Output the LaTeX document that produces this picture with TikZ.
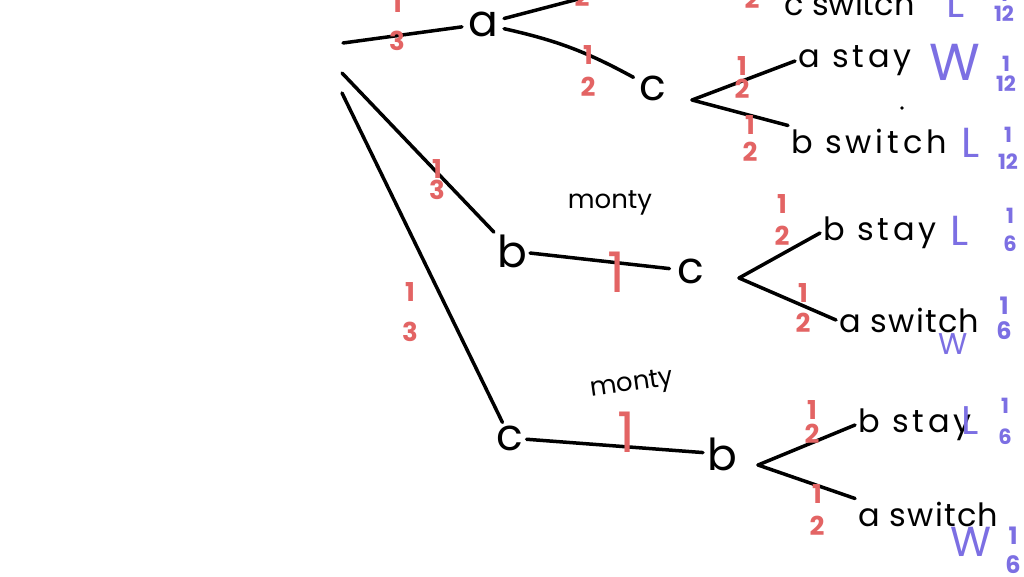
\documentclass[tikz,border=0pt]{standalone}
\usepackage{fontspec}
\setmainfont{Poppins}
\newfontfamily\handw{Poppins}[LetterSpace=12]
\newfontfamily\handn{Poppins}[LetterSpace=4]
\newfontfamily\handp{Poppins}
\newfontfamily\handb{Poppins}
\definecolor{hred}{HTML}{E36464}
\definecolor{hblue}{HTML}{7C6FE3}
\begin{document}
\begin{tikzpicture}[x=1pt,y=-1pt,
  ink/.style={line width=3.5pt, line cap=round, black},
  big/.style={font=\handp\fontsize{44}{44}\selectfont, inner sep=6pt},
  leaf/.style={font=\handw\fontsize{32}{32}\selectfont, anchor=west, inner sep=3pt},
  leafn/.style={leaf, font=\handn\fontsize{32}{32}\selectfont},
  mty/.style={font=\handp\fontsize{26}{26}\selectfont, inner sep=0pt},
  rf/.style={text=hred, font=\handb\bfseries\fontsize{26}{21}\selectfont, align=center, inner sep=0pt},
  rtick/.style={text=hred, font=\handp\fontsize{56}{56}\selectfont, inner sep=0pt},
  bf/.style={text=hblue, font=\handb\bfseries\fontsize{21}{20}\selectfont, align=center, inner sep=0pt},
  bw/.style={text=hblue, font=\handp\fontsize{52}{52}\selectfont, inner sep=0pt},
  bL/.style={text=hblue, font=\handp\fontsize{42}{42}\selectfont, inner sep=0pt}]
\fill[white] (0,0) rectangle (1024,576);
\useasboundingbox (0,0) rectangle (1024,576);
\clip (0,0) rectangle (1024,576);

% root ends
\coordinate (r1) at (343,43);
\coordinate (r2) at (342,73);
\coordinate (r3) at (342,93);
\coordinate (atop) at (590,-4);

% level one
\node[big] (a) at (483,24) {a};
\node[big, inner sep=3pt] (b) at (512,251) {b};
\node[big, inner sep=3pt] (c1) at (510,438) {c};

% level two
\node[big] (ac) at (653,88) {c};
\node[big, inner sep=8pt] (bc) at (691,271) {c};
\node[big, inner sep=4pt] (cb) at (722,454) {b};

% forks
\coordinate (acf) at (692,100);
\coordinate (bcf) at (739,278);
\coordinate (cbf) at (758,465);

% leaves
\node[leaf, font=\handp\fontsize{32}{32}\selectfont, anchor=base west] (L0) at (781,15) {c switch};
\node[leaf] (L1) at (795,61) {a stay};
\node[leaf] (L2) at (788,141) {b switch};
\node[leaf] (L3) at (820,233) {b stay};
\node[leafn] (L4) at (836,320) {a switch};
\node[leaf] (L5) at (855,425) {b stay};
\node[leafn] (L6) at (855,514) {a switch};

% connectors
\draw[ink] (r1) -- (a);
\draw[ink] (r2) -- (b);
\draw[ink] (r3) -- (c1);
\draw[ink] (a) -- (atop);
\draw[ink] (a) to[bend left=8] (ac);
\draw[ink] (acf) -- (L1.west);
\draw[ink] (acf) -- (L2.north west);
\draw[ink] (b) -- (bc);
\draw[ink] (bcf) -- (L3.west);
\draw[ink] (bcf) -- (L4.west);
\draw[ink] (c1) -- (cb);
\draw[ink] (cbf) -- (L5.west);
\draw[ink] (cbf) -- (L6.north west);

% monty labels
\node[mty] (m1) at (610,203) {monty};
\node[mty, rotate=8] (m2) at (632,385) {monty};

% red probabilities
\node[rf] (p0) at (397,22) {1\\[17pt]3};
\node[rf] (p1) at (437,180) {1\\3};
\node[rf] (p2) at (410,312) {1\\[19pt]3};
\node[rf, anchor=base] (p3) at (582,6) {2};
\node[rf] (p4) at (588,71) {1\\[11pt]2};
\node[rf, anchor=base] (p5) at (752,8) {2};
\node[rf] (p6) at (742,78) {1\\[2pt]2};
\node[rf] (p7) at (750,139) {1\\[6pt]2};
\node[rtick] (t1) at (616,272) {1};
\node[rf] (p8) at (782,220) {1\\[11pt]2};
\node[rf] (p9) at (803,308) {1\\[9pt]2};
\node[rtick] (t2) at (626,432) {1};
\node[rf] (p10) at (812,422) {1\\[3pt]2};
\node[rf] (p11) at (817,510) {1\\[11pt]2};

% blue outcomes
\node[bL, anchor=base] (o0) at (956,17) {L};
\node[bf, anchor=south] (q0) at (1004,22) {1\\12};
\node[bw] (o1) at (955,62) {W};
\node[bf] (q1) at (1006,74) {1\\12};
\node[bL] (o2) at (971,143) {L};
\node[bf] (q2) at (1008,148) {1\\[7pt]12};
\node[bL] (o3) at (960,231) {L};
\node[bf] (q3) at (1010,230) {1\\[8pt]6};
\node[bw, font=\handp\fontsize{30}{30}\selectfont] (o4) at (953,344) {W};
\node[bf, font=\handb\bfseries\fontsize{24}{20}\selectfont] (q4) at (1004,318) {1\\[5pt]6};
\node[bL, font=\handp\fontsize{40}{40}\selectfont] (o5) at (970,421) {L};
\node[bf] (q5) at (1005,421) {1\\[11pt]6};
\node[bw, font=\handp\fontsize{42}{42}\selectfont] (o6) at (971,542) {W};
\node[bf, font=\handb\bfseries\fontsize{24}{20}\selectfont] (q6) at (1013,550) {1\\[9pt]6};

% stray dot
\fill (902,108) circle (1.8pt);
\end{tikzpicture}
\end{document}
